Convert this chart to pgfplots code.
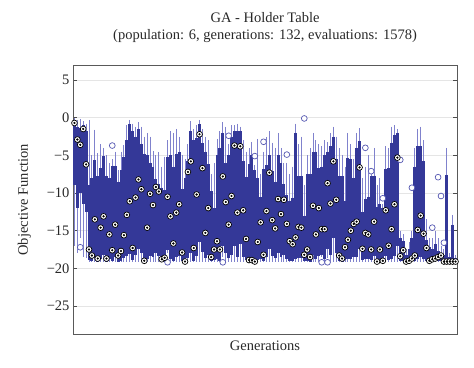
\documentclass[border=0pt]{standalone}
\usepackage{pgfplots}
\pgfplotsset{compat=1.18}
\usepackage{pgfplotstable}
\usepackage{fontspec}
\setmainfont{Liberation Serif}

\definecolor{boxblue}{RGB}{52,56,152}
\definecolor{whisk}{RGB}{128,130,205}
\definecolor{outc}{RGB}{85,88,178}
\definecolor{txt}{RGB}{40,40,40}

\pgfplotstableread{
g lw q1 med q3 uw
1 -17.0 -9.0 -0.7 -0.4 -0.1
2 -18.0 -12.0 -2.9 -1.2 -0.3
3 -16.0 -10.0 -3.6 -1.4 -0.2
4 -18.5 -11.5 -1.5 -1.0 -0.5
5 -18.6 -12.5 -6.2 -1.8 -0.8
6 -19.2 -18.9 -17.5 -9.0 -0.3
7 -19.2 -19.0 -18.3 -8.0 -5.0
8 -19.2 -18.6 -13.5 -5.6 -1.6
9 -19.2 -19.1 -18.7 -7.8 -4.7
10 -19.2 -18.7 -14.6 -6.7 -3.5
11 -19.2 -18.2 -13.1 -5.1 -4.0
12 -19.2 -19.1 -18.7 -7.8 -5.0
13 -19.2 -18.8 -15.5 -8.0 -6.0
14 -19.2 -19.0 -17.6 -6.4 -5.5
15 -19.2 -18.5 -14.2 -6.4 -4.5
16 -19.2 -19.1 -18.3 -8.5 -7.0
17 -19.2 -19.0 -17.7 -7.0 -4.5
18 -19.2 -18.6 -15.6 -5.2 -3.6
19 -19.2 -18.4 -12.9 -3.0 -1.0
20 -19.2 -18.1 -11.1 -0.9 -0.3
21 -19.2 -18.9 -17.3 -1.8 -0.8
22 -19.2 -18.2 -10.6 -2.5 -1.2
23 -19.2 -17.5 -8.2 -1.5 -0.6
24 -19.2 -17.9 -9.5 -3.5 -1.2
25 -19.2 -19.15 -19.0 -4.8 -2.5
26 -19.2 -18.7 -14.6 -5.0 -2.0
27 -19.2 -18.3 -10.1 -6.0 -2.5
28 -19.2 -18.5 -11.6 -6.5 -4.4
29 -19.2 -18.0 -9.2 -8.2 -5.0
30 -19.2 -18.4 -9.8 -8.8 -4.6
31 -19.2 -19.1 -18.8 -9.3 -6.5
32 -19.2 -19.0 -18.6 -9.6 -5.2
33 -18.0 -17.6 -10.5 -5.2 -3.0
34 -19.2 -18.8 -13.1 -5.0 -1.8
35 -19.2 -19.0 -16.7 -6.5 -2.0
36 -19.2 -18.5 -12.6 -4.8 -1.5
37 -19.2 -18.3 -11.5 -4.6 -2.5
38 -19.2 -19.0 -17.9 -9.5 -5.0
39 -19.2 -19.2 -19.1 -8.0 -5.5
40 -19.2 -18.6 -7.2 -5.8 -3.5
41 -19.2 -18.0 -5.8 -1.8 -0.5
42 -19.2 -19.0 -17.3 -3.0 -1.5
43 -19.2 -18.3 -10.2 -2.7 -1.0
44 -19.2 -16.5 -2.2 -0.9 -0.3
45 -19.2 -17.8 -6.7 -3.4 -1.5
46 -19.2 -18.6 -15.3 -4.5 -2.5
47 -19.2 -18.2 -12.0 -6.2 -3.0
48 -19.2 -19.0 -18.5 -9.8 -7.5
49 -19.2 -18.9 -17.5 -12.0 -6.0
50 -19.2 -18.8 -16.4 -5.0 -2.8
51 -19.2 -19.0 -17.5 -4.0 -1.8
52 -18.5 -17.0 -7.8 -2.0 -0.6
53 -19.2 -18.0 -11.2 -6.0 -1.2
54 -19.2 -18.6 -14.2 -5.0 -3.5
55 -19.2 -18.2 -10.4 -2.5 -1.0
56 -19.2 -17.0 -3.7 -1.8 -1.0
57 -19.2 -18.5 -12.6 -1.8 -0.8
58 -19.2 -16.8 -3.8 -1.8 -1.2
59 -19.2 -18.5 -12.3 -5.7 -3.0
60 -19.2 -18.9 -16.1 -7.9 -4.5
61 -19.2 -19.15 -18.9 -6.2 -4.0
62 -19.2 -19.15 -18.9 -5.0 -3.2
63 -19.2 -19.2 -19.1 -7.0 -6.3
64 -19.2 -18.9 -16.5 -8.0 -2.8
65 -19.2 -18.7 -13.9 -10.5 -7.5
66 -19.2 -19.0 -18.2 -6.8 -4.5
67 -19.2 -18.5 -12.4 -6.3 -2.6
68 -19.2 -17.5 -7.3 -5.0 -1.8
69 -19.2 -18.4 -13.6 -7.1 -3.3
70 -19.2 -18.6 -14.7 -8.5 -4.0
71 -19.2 -18.0 -10.8 -5.0 -2.0
72 -19.2 -18.5 -12.8 -6.0 -4.0
73 -19.2 -18.2 -10.9 -8.8 -6.0
74 -19.2 -18.8 -14.1 -10.3 -6.0
75 -19.2 -19.0 -16.4 -11.0 -7.5
76 -19.2 -19.0 -16.8 -10.6 -6.5
77 -19.2 -18.7 -15.9 -2.0 -0.8
78 -19.2 -18.6 -14.5 -7.8 -3.5
79 -19.2 -18.6 -14.6 -7.8 -2.5
80 -19.2 -19.0 -18.2 -13.0 -9.0
81 -19.2 -19.0 -17.5 -7.5 -5.0
82 -19.2 -19.1 -18.5 -7.5 -4.0
83 -19.2 -18.2 -11.7 -4.5 -2.0
84 -19.2 -18.7 -15.5 -4.5 -3.0
85 -19.2 -18.3 -12.0 -6.7 -3.5
86 -18.5 -18.2 -14.8 -6.5 -3.8
87 -19.2 -18.7 -14.8 -5.0 -3.0
88 -18.6 -17.5 -8.7 -4.5 -3.2
89 -19.2 -18.2 -11.4 -3.8 -2.0
90 -19.2 -16.0 -5.8 -2.5 -1.2
91 -19.2 -18.0 -10.9 -5.5 -2.5
92 -19.2 -19.0 -18.3 -7.8 -4.0
93 -19.2 -19.1 -18.7 -7.8 -5.0
94 -19.2 -18.9 -17.2 -11.0 -6.5
95 -19.2 -18.8 -16.2 -5.3 -2.0
96 -19.2 -18.7 -15.0 -5.5 -3.5
97 -19.2 -18.5 -14.1 -8.0 -5.5
98 -19.2 -18.5 -13.8 -4.0 -2.0
99 -19.2 -17.5 -6.6 -3.1 -1.4
100 -19.2 -18.9 -17.4 -12.5 -8.0
101 -19.2 -18.7 -15.3 -10.8 -6.5
102 -19.2 -18.7 -15.5 -10.5 -5.0
103 -19.2 -18.9 -17.5 -7.7 -7.4
104 -19.2 -18.4 -13.8 -7.7 -4.0
105 -19.2 -19.2 -19.1 -11.9 -9.0
106 -19.2 -19.0 -17.5 -11.5 -8.0
107 -19.2 -19.15 -19.0 -12.0 -11.5
108 -19.2 -18.4 -12.3 -6.8 -3.8
109 -19.2 -18.9 -17.0 -6.7 -4.0
110 -19.2 -18.7 -14.8 -3.3 -1.2
111 -19.2 -18.3 -11.5 -2.3 -1.0
112 -19.2 -17.0 -5.3 -2.0 -1.5
113 -19.2 -19.0 -18.4 -16.0 -15.0
114 -19.2 -19.0 -17.6 -16.4 -15.5
115 -19.2 -19.2 -19.1 -18.2 -17.5
116 -19.2 -19.15 -19.0 -17.5 -16.5
117 -19.2 -19.0 -18.7 -16.0 -15.0
118 -19.2 -19.0 -18.3 -6.5 -4.0
119 -19.2 -18.7 -14.9 -3.8 -1.5
120 -19.2 -18.5 -13.0 -3.8 -1.2
121 -19.2 -18.8 -15.4 -5.8 -3.0
122 -19.2 -19.0 -17.3 -16.2 -13.5
123 -19.2 -19.15 -19.0 -17.2 -16.0
124 -19.2 -19.1 -18.8 -17.5 -16.0
125 -19.2 -19.05 -18.7 -16.8 -15.0
126 -19.2 -19.0 -18.5 -17.7 -16.0
127 -19.2 -19.0 -18.3 -18.0 -17.0
128 -19.2 -19.15 -19.1 -18.2 -17.5
129 -19.2 -19.15 -19.1 -7.6 -4.0
130 -19.2 -19.15 -19.1 -18.5 -18.0
131 -19.2 -19.15 -19.1 -14.2 -12.9
132 -19.2 -19.15 -19.1 -18.6 -18.2
}\gens

\pgfplotstableread{
g v
3 -17.2
14 -3.7
33 -19.2
52 -19.2
54 -2.4
63 -5.1
66 -3.2
74 -4.9
80 -0.1
86 -19.2
88 -19.2
101 -4.0
103 -7.1
107 -10.7
113 -5.6
117 -9.3
124 -14.6
126 -7.9
127 -10.4
128 -16.6
}\outl

\begin{document}
\begin{tikzpicture}
\path[use as bounding box] (0,0) rectangle (474bp,368bp);
\begin{axis}[
  at={(73bp,34bp)}, anchor=south west,
  scale only axis, width=384bp, height=268.5bp,
  xmin=0.5, xmax=132.5, ymin=-28.72, ymax=6.93,
  xtick=\empty,
  ytick={-25,-20,-15,-10,-5,0,5},
  yticklabels={−25,−20,−15,−10,−5,0,5},
  ytick pos=both, yticklabel pos=left,
  tick align=inside, major tick length=4bp,
  tick style={draw=black!70, line width=0.6bp},
  ymajorgrids, grid style={draw=black!10, line width=0.6bp},
  axis line style={draw=black!65, line width=0.8bp},
  yticklabel style={font=\fontsize{14.5bp}{17bp}\selectfont, text=txt},
  title={GA - Holder Table\\(population: 6, generations: 132, evaluations: 1578)},
  title style={at={(axis description cs:0.5,1)}, anchor=south, yshift=16.5bp, inner sep=0pt,
    align=center, font=\fontsize{14.5bp}{17.4bp}\selectfont, text=txt},
  xlabel={Generations},
  xlabel style={at={(axis description cs:0.5,0)}, anchor=base, yshift=-17bp, inner sep=0pt,
    font=\fontsize{14.5bp}{17bp}\selectfont, text=txt},
  ylabel={Objective Function},
  ylabel style={at={([xshift=-45bp]axis description cs:0,0.5)}, anchor=base, inner sep=0pt,
    font=\fontsize{14.5bp}{17bp}\selectfont, text=txt},
  clip=false,
]
% whiskers
\addplot[draw=none, mark=none, forget plot,
  error bars/.cd, y dir=both, y explicit, error mark=none,
  error bar style={draw=whisk, line width=0.9bp, line cap=butt}]
  table[x=g, y=uw, y error plus expr=0, y error minus expr=\thisrow{uw}-\thisrow{lw}] {\gens};
% boxes
\addplot[draw=none, mark=none, forget plot,
  error bars/.cd, y dir=both, y explicit, error mark=none,
  error bar style={draw=boxblue, line width=2.95bp, line cap=butt}]
  table[x=g, y=q3, y error plus expr=0, y error minus expr=\thisrow{q3}-\thisrow{q1}] {\gens};
% outliers
\addplot[only marks, mark=*, mark size=2.9bp, mark options={draw=outc, fill=white, line width=0.7bp}]
  table[x=g, y=v] {\outl};
% medians
\addplot[only marks, mark=*, mark size=2.9bp, mark options={draw=black, fill=white, line width=0.7bp}]
  table[x=g, y=med] {\gens};
\addplot[only marks, mark=*, mark size=0.9bp, mark options={draw=black, fill=black}]
  table[x=g, y=med] {\gens};
\end{axis}
\end{tikzpicture}
\end{document}
